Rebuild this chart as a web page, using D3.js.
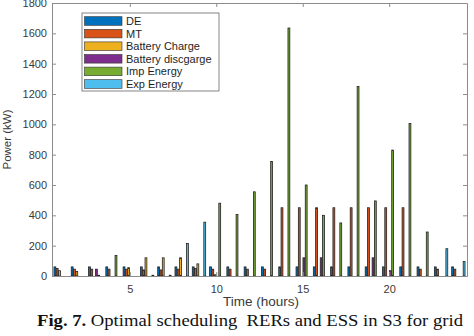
<!DOCTYPE html>
<html>
<head>
<meta charset="utf-8">
<script src="https://cdn.jsdelivr.net/npm/d3@7"></script>
<style>
  html, body { margin: 0; padding: 0; background: #fff; }
  svg { display: block; }
  text { font-family: "Liberation Sans", Arial, Helvetica, sans-serif; }
</style>
</head>
<body>
<svg id="chart" width="474" height="336"></svg>
<script>
// Hourly dispatch (kW) for each source, hours 1..24
const hours = [1,2,3,4,5,6,7,8,9,10,11,12,13,14,15,16,17,18,19,20,21,22,23,24];
const seriesNames = ["DE", "MT", "Battery Charge", "Battery discgarge", "Imp Energy", "Exp Energy"];
const seriesColors = ["#0072BD", "#D95319", "#EDB120", "#7E2F8E", "#77AC30", "#4DBEEE"];

const DE        = [60,60,60,60,60,60,60,60,60,60,60,60,60,60,60,60,60,60,60,60,60,60,60,60];
const MT        = [50,45,45,45,45,40,40,45,50,45,45,45,45,450,450,450,450,450,450,450,450,45,45,45];
const batCharge = [35,30,0,0,55,120,120,120,80,8,0,0,0,0,0,0,0,0,0,0,0,0,0,0];
const batDis    = [0,0,45,0,0,0,0,0,0,0,0,0,0,0,120,120,0,0,120,35,0,0,0,0];
const impEnergy = [0,0,5,135,0,0,0,0,0,480,405,555,755,1635,600,400,350,1250,495,830,1005,290,0,0];
const expEnergy = [0,0,0,0,0,5,5,215,355,0,0,0,0,0,0,0,0,0,0,0,0,0,180,95];

const yTicks = [0,200,400,600,800,1000,1200,1400,1600,1800];
const xTicks = [5,10,15,20];

const seriesValues = [DE, MT, batCharge, batDis, impEnergy, expEnergy];

const svg = d3.select("#chart");
const plotL = 52, plotR = 467, plotT = 3, plotB = 276;

const x = d3.scaleLinear().domain([0.5, 24.5]).range([plotL, plotR]);
const y = d3.scaleLinear().domain([0, 1800]).range([plotB, plotT]);
// position of each series inside an hour group (in hour units)
const inner = d3.scaleBand().domain(seriesNames).range([-0.4, 0.4])
  .paddingInner(0.2).paddingOuter(0.1);
const barW = x(inner.bandwidth()) - x(0);

// bars
seriesNames.forEach((name, si) => {
  svg.append("g")
    .selectAll("rect")
    .data(hours.map((h, i) => ({ h, v: seriesValues[si][i] })))
    .join("rect")
    .attr("x", d => x(d.h + inner(name)))
    .attr("width", barW)
    .attr("y", d => y(d.v))
    .attr("height", d => y(0) - y(d.v))
    .attr("fill", seriesColors[si])
    .attr("stroke", "#222")
    .attr("stroke-width", 0.8);
});

// axes (box with inward ticks on all sides)
const axisColor = "#8c8c8c";
const styleAxis = g => {
  g.selectAll(".domain").attr("stroke", axisColor);
  g.selectAll(".tick line").attr("stroke", axisColor);
  g.selectAll(".tick text").attr("fill", "#3a3a3a").style("font-size", "11px")
    .style("font-family", "'Liberation Sans', Arial, sans-serif");
};

svg.append("g").attr("transform", `translate(${plotL},0)`)
  .call(d3.axisLeft(y).tickValues(yTicks).tickFormat(d3.format("d"))
    .tickSize(-4).tickSizeOuter(0).tickPadding(5))
  .call(styleAxis);
svg.append("g").attr("transform", `translate(${plotR},0)`)
  .call(d3.axisRight(y).tickValues(yTicks).tickSize(-4).tickSizeOuter(0).tickFormat(""))
  .call(styleAxis);
svg.append("g").attr("transform", `translate(0,${plotB})`)
  .call(d3.axisBottom(x).tickValues(xTicks).tickFormat(d3.format("d"))
    .tickSize(-4).tickSizeOuter(0).tickPadding(9))
  .call(styleAxis);
svg.append("g").attr("transform", `translate(0,${plotT})`)
  .call(d3.axisTop(x).tickValues(xTicks).tickSize(-4).tickSizeOuter(0).tickFormat(""))
  .call(styleAxis);

// axis titles
svg.append("text")
  .attr("x", 261).attr("y", 306)
  .attr("text-anchor", "middle")
  .attr("fill", "#3a3a3a")
  .attr("textLength", 76)
  .attr("lengthAdjust", "spacingAndGlyphs")
  .style("font-size", "12px")
  .text("Time (hours)");

svg.append("text")
  .attr("transform", `translate(11,${(plotT + plotB) / 2}) rotate(-90)`)
  .attr("text-anchor", "middle")
  .attr("fill", "#3a3a3a")
  .style("font-size", "11.5px")
  .text("Power (kW)");

// legend
const lg = svg.append("g");
lg.append("rect")
  .attr("x", 82).attr("y", 13).attr("width", 137).attr("height", 78)
  .attr("fill", "#fff").attr("stroke", "#666").attr("stroke-width", 0.8);
seriesNames.forEach((name, i) => {
  const cy = 21 + i * 12.6;
  lg.append("rect")
    .attr("x", 84.5).attr("y", cy - 4.3).attr("width", 37.5).attr("height", 8.6)
    .attr("fill", seriesColors[i]).attr("stroke", "#333").attr("stroke-width", 0.6);
  lg.append("text")
    .attr("x", 126).attr("y", cy + 3.9)
    .attr("fill", "#1e1e1e")
    .style("font-size", "11px")
    .text(name);
});

// figure caption
const cap = svg.append("text")
  .attr("x", 37).attr("y", 326)
  .attr("fill", "#111")
  .attr("textLength", 426)
  .attr("lengthAdjust", "spacingAndGlyphs")
  .style("font-family", "'Liberation Serif', 'Times New Roman', serif")
  .style("font-size", "16.5px")
  .style("white-space", "pre");
cap.append("tspan").attr("font-weight", "bold").text("Fig. 7.");
cap.append("tspan").text(" Optimal scheduling  RERs and ESS in S3 for grid");
</script>
</body>
</html>
